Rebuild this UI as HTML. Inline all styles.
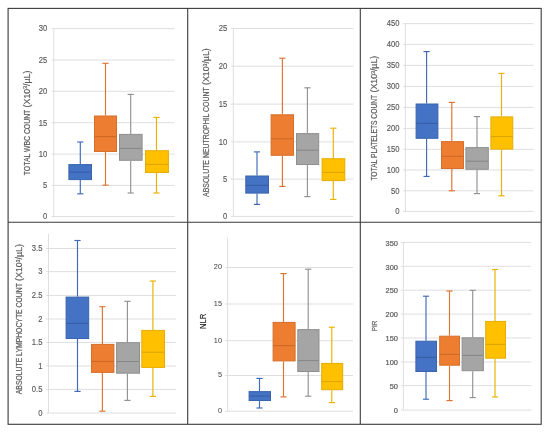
<!DOCTYPE html>
<html><head><meta charset="utf-8"><title>Box plots</title>
<style>html,body{margin:0;padding:0;background:#fff}svg{display:block}text{font-family:"Liberation Sans", sans-serif}</style>
</head><body>
<svg width="550" height="433" viewBox="0 0 550 433">
<rect width="550" height="433" fill="#ffffff"/>
<line x1="51.60" y1="28.60" x2="174.70" y2="28.60" stroke="#D9D9D9" stroke-width="0.85"/>
<line x1="51.60" y1="60.00" x2="174.70" y2="60.00" stroke="#D9D9D9" stroke-width="0.85"/>
<line x1="51.60" y1="91.30" x2="174.70" y2="91.30" stroke="#D9D9D9" stroke-width="0.85"/>
<line x1="51.60" y1="122.70" x2="174.70" y2="122.70" stroke="#D9D9D9" stroke-width="0.85"/>
<line x1="51.60" y1="154.10" x2="174.70" y2="154.10" stroke="#D9D9D9" stroke-width="0.85"/>
<line x1="51.60" y1="185.40" x2="174.70" y2="185.40" stroke="#D9D9D9" stroke-width="0.85"/>
<line x1="51.60" y1="216.50" x2="174.70" y2="216.50" stroke="#D9D9D9" stroke-width="0.85"/>
<line x1="53.80" y1="28.60" x2="53.80" y2="216.50" stroke="#D9D9D9" stroke-width="0.85"/>
<text x="47.20" y="31.42" font-size="9.0" fill="#595959" stroke="#595959" stroke-width="0.15" text-anchor="end" textLength="8.51" lengthAdjust="spacingAndGlyphs">30</text>
<text x="47.20" y="62.82" font-size="9.0" fill="#595959" stroke="#595959" stroke-width="0.15" text-anchor="end" textLength="8.51" lengthAdjust="spacingAndGlyphs">25</text>
<text x="47.20" y="94.12" font-size="9.0" fill="#595959" stroke="#595959" stroke-width="0.15" text-anchor="end" textLength="8.51" lengthAdjust="spacingAndGlyphs">20</text>
<text x="47.20" y="125.52" font-size="9.0" fill="#595959" stroke="#595959" stroke-width="0.15" text-anchor="end" textLength="8.51" lengthAdjust="spacingAndGlyphs">15</text>
<text x="47.20" y="156.92" font-size="9.0" fill="#595959" stroke="#595959" stroke-width="0.15" text-anchor="end" textLength="8.51" lengthAdjust="spacingAndGlyphs">10</text>
<text x="47.20" y="188.22" font-size="9.0" fill="#595959" stroke="#595959" stroke-width="0.15" text-anchor="end" textLength="4.25" lengthAdjust="spacingAndGlyphs">5</text>
<text x="47.20" y="219.32" font-size="9.0" fill="#595959" stroke="#595959" stroke-width="0.15" text-anchor="end" textLength="4.25" lengthAdjust="spacingAndGlyphs">0</text>
<text transform="translate(29.60,175.20) rotate(-90)" font-size="8.3" fill="#5e5e5e" stroke="#5e5e5e" stroke-width="0.2" lengthAdjust="spacingAndGlyphs" text-anchor="start" textLength="65.5">TOTAL WBC COUNT</text>
<text transform="translate(29.60,70.60) rotate(-90)" font-size="8.3" fill="#5e5e5e" stroke="#5e5e5e" stroke-width="0.2" lengthAdjust="spacingAndGlyphs" text-anchor="end" textLength="36.8">(X10<tspan font-size="55%" dy="-2.6">3</tspan><tspan dy="2.6">/µL)</tspan></text>
<line x1="80.30" y1="142.00" x2="80.30" y2="164.10" stroke="#3F6AB8" stroke-width="1.15"/>
<line x1="80.30" y1="180.10" x2="80.30" y2="193.80" stroke="#3F6AB8" stroke-width="1.15"/>
<line x1="77.20" y1="142.00" x2="83.40" y2="142.00" stroke="#3F6AB8" stroke-width="1.15"/>
<line x1="77.20" y1="193.80" x2="83.40" y2="193.80" stroke="#3F6AB8" stroke-width="1.15"/>
<rect x="68.90" y="164.60" width="22.60" height="15.00" fill="#4472C4" stroke="#3A64AE" stroke-width="1"/>
<line x1="68.90" y1="172.10" x2="91.50" y2="172.10" stroke="#375DA3" stroke-width="1"/>
<line x1="105.50" y1="63.30" x2="105.50" y2="115.50" stroke="#DD7430" stroke-width="1.15"/>
<line x1="105.50" y1="152.00" x2="105.50" y2="185.20" stroke="#DD7430" stroke-width="1.15"/>
<line x1="102.40" y1="63.30" x2="108.60" y2="63.30" stroke="#DD7430" stroke-width="1.15"/>
<line x1="102.40" y1="185.20" x2="108.60" y2="185.20" stroke="#DD7430" stroke-width="1.15"/>
<rect x="94.50" y="116.00" width="22.00" height="35.50" fill="#ED7D31" stroke="#D56F2A" stroke-width="1"/>
<line x1="94.50" y1="136.60" x2="116.50" y2="136.60" stroke="#CB6825" stroke-width="1"/>
<line x1="130.70" y1="94.40" x2="130.70" y2="133.90" stroke="#929292" stroke-width="1.15"/>
<line x1="130.70" y1="160.80" x2="130.70" y2="193.00" stroke="#929292" stroke-width="1.15"/>
<line x1="127.60" y1="94.40" x2="133.80" y2="94.40" stroke="#929292" stroke-width="1.15"/>
<line x1="127.60" y1="193.00" x2="133.80" y2="193.00" stroke="#929292" stroke-width="1.15"/>
<rect x="119.50" y="134.40" width="22.60" height="25.90" fill="#A5A5A5" stroke="#8F8F8F" stroke-width="1"/>
<line x1="119.50" y1="148.40" x2="142.10" y2="148.40" stroke="#868686" stroke-width="1"/>
<line x1="156.50" y1="117.40" x2="156.50" y2="150.20" stroke="#EBB100" stroke-width="1.15"/>
<line x1="156.50" y1="173.00" x2="156.50" y2="193.00" stroke="#EBB100" stroke-width="1.15"/>
<line x1="153.40" y1="117.40" x2="159.60" y2="117.40" stroke="#EBB100" stroke-width="1.15"/>
<line x1="153.40" y1="193.00" x2="159.60" y2="193.00" stroke="#EBB100" stroke-width="1.15"/>
<rect x="145.50" y="150.70" width="22.90" height="21.80" fill="#FFC000" stroke="#E6AC00" stroke-width="1"/>
<line x1="145.50" y1="164.40" x2="168.40" y2="164.40" stroke="#DAA400" stroke-width="1"/>
<line x1="231.00" y1="28.50" x2="353.30" y2="28.50" stroke="#D9D9D9" stroke-width="0.85"/>
<line x1="231.00" y1="66.20" x2="353.30" y2="66.20" stroke="#D9D9D9" stroke-width="0.85"/>
<line x1="231.00" y1="104.10" x2="353.30" y2="104.10" stroke="#D9D9D9" stroke-width="0.85"/>
<line x1="231.00" y1="141.90" x2="353.30" y2="141.90" stroke="#D9D9D9" stroke-width="0.85"/>
<line x1="231.00" y1="179.10" x2="353.30" y2="179.10" stroke="#D9D9D9" stroke-width="0.85"/>
<line x1="231.00" y1="216.40" x2="353.30" y2="216.40" stroke="#D9D9D9" stroke-width="0.85"/>
<line x1="233.30" y1="28.50" x2="233.30" y2="216.40" stroke="#D9D9D9" stroke-width="0.85"/>
<text x="227.30" y="31.32" font-size="9.0" fill="#595959" stroke="#595959" stroke-width="0.15" text-anchor="end" textLength="8.51" lengthAdjust="spacingAndGlyphs">25</text>
<text x="227.30" y="69.02" font-size="9.0" fill="#595959" stroke="#595959" stroke-width="0.15" text-anchor="end" textLength="8.51" lengthAdjust="spacingAndGlyphs">20</text>
<text x="227.30" y="106.92" font-size="9.0" fill="#595959" stroke="#595959" stroke-width="0.15" text-anchor="end" textLength="8.51" lengthAdjust="spacingAndGlyphs">15</text>
<text x="227.30" y="144.72" font-size="9.0" fill="#595959" stroke="#595959" stroke-width="0.15" text-anchor="end" textLength="8.51" lengthAdjust="spacingAndGlyphs">10</text>
<text x="227.30" y="181.92" font-size="9.0" fill="#595959" stroke="#595959" stroke-width="0.15" text-anchor="end" textLength="4.25" lengthAdjust="spacingAndGlyphs">5</text>
<text x="227.30" y="219.22" font-size="9.0" fill="#595959" stroke="#595959" stroke-width="0.15" text-anchor="end" textLength="4.25" lengthAdjust="spacingAndGlyphs">0</text>
<text transform="translate(209.10,196.90) rotate(-90)" font-size="8.3" fill="#5e5e5e" stroke="#5e5e5e" stroke-width="0.2" lengthAdjust="spacingAndGlyphs" text-anchor="start" textLength="109.6">ABSOLUTE NEUTROPHIL COUNT</text>
<text transform="translate(209.10,48.20) rotate(-90)" font-size="8.3" fill="#5e5e5e" stroke="#5e5e5e" stroke-width="0.2" lengthAdjust="spacingAndGlyphs" text-anchor="end" textLength="36.8">(X10<tspan font-size="55%" dy="-2.6">3</tspan><tspan dy="2.6">/µL)</tspan></text>
<line x1="257.00" y1="151.90" x2="257.00" y2="175.50" stroke="#3F6AB8" stroke-width="1.15"/>
<line x1="257.00" y1="193.60" x2="257.00" y2="204.40" stroke="#3F6AB8" stroke-width="1.15"/>
<line x1="253.90" y1="151.90" x2="260.10" y2="151.90" stroke="#3F6AB8" stroke-width="1.15"/>
<line x1="253.90" y1="204.40" x2="260.10" y2="204.40" stroke="#3F6AB8" stroke-width="1.15"/>
<rect x="245.80" y="176.00" width="22.70" height="17.10" fill="#4472C4" stroke="#3A64AE" stroke-width="1"/>
<line x1="245.80" y1="185.40" x2="268.50" y2="185.40" stroke="#375DA3" stroke-width="1"/>
<line x1="282.40" y1="58.20" x2="282.40" y2="114.30" stroke="#DD7430" stroke-width="1.15"/>
<line x1="282.40" y1="155.80" x2="282.40" y2="186.40" stroke="#DD7430" stroke-width="1.15"/>
<line x1="279.30" y1="58.20" x2="285.50" y2="58.20" stroke="#DD7430" stroke-width="1.15"/>
<line x1="279.30" y1="186.40" x2="285.50" y2="186.40" stroke="#DD7430" stroke-width="1.15"/>
<rect x="271.10" y="114.80" width="22.40" height="40.50" fill="#ED7D31" stroke="#D56F2A" stroke-width="1"/>
<line x1="271.10" y1="138.80" x2="293.50" y2="138.80" stroke="#CB6825" stroke-width="1"/>
<line x1="307.40" y1="87.80" x2="307.40" y2="133.10" stroke="#929292" stroke-width="1.15"/>
<line x1="307.40" y1="165.00" x2="307.40" y2="196.60" stroke="#929292" stroke-width="1.15"/>
<line x1="304.30" y1="87.80" x2="310.50" y2="87.80" stroke="#929292" stroke-width="1.15"/>
<line x1="304.30" y1="196.60" x2="310.50" y2="196.60" stroke="#929292" stroke-width="1.15"/>
<rect x="296.50" y="133.60" width="22.20" height="30.90" fill="#A5A5A5" stroke="#8F8F8F" stroke-width="1"/>
<line x1="296.50" y1="150.20" x2="318.70" y2="150.20" stroke="#868686" stroke-width="1"/>
<line x1="333.30" y1="128.20" x2="333.30" y2="158.20" stroke="#EBB100" stroke-width="1.15"/>
<line x1="333.30" y1="181.10" x2="333.30" y2="199.40" stroke="#EBB100" stroke-width="1.15"/>
<line x1="330.20" y1="128.20" x2="336.40" y2="128.20" stroke="#EBB100" stroke-width="1.15"/>
<line x1="330.20" y1="199.40" x2="336.40" y2="199.40" stroke="#EBB100" stroke-width="1.15"/>
<rect x="322.10" y="158.70" width="22.70" height="21.90" fill="#FFC000" stroke="#E6AC00" stroke-width="1"/>
<line x1="322.10" y1="172.40" x2="344.80" y2="172.40" stroke="#DAA400" stroke-width="1"/>
<line x1="403.00" y1="23.60" x2="533.60" y2="23.60" stroke="#D9D9D9" stroke-width="0.85"/>
<line x1="403.00" y1="44.40" x2="533.60" y2="44.40" stroke="#D9D9D9" stroke-width="0.85"/>
<line x1="403.00" y1="65.40" x2="533.60" y2="65.40" stroke="#D9D9D9" stroke-width="0.85"/>
<line x1="403.00" y1="86.40" x2="533.60" y2="86.40" stroke="#D9D9D9" stroke-width="0.85"/>
<line x1="403.00" y1="107.40" x2="533.60" y2="107.40" stroke="#D9D9D9" stroke-width="0.85"/>
<line x1="403.00" y1="128.40" x2="533.60" y2="128.40" stroke="#D9D9D9" stroke-width="0.85"/>
<line x1="403.00" y1="149.30" x2="533.60" y2="149.30" stroke="#D9D9D9" stroke-width="0.85"/>
<line x1="403.00" y1="170.00" x2="533.60" y2="170.00" stroke="#D9D9D9" stroke-width="0.85"/>
<line x1="403.00" y1="190.80" x2="533.60" y2="190.80" stroke="#D9D9D9" stroke-width="0.85"/>
<line x1="403.00" y1="211.40" x2="533.60" y2="211.40" stroke="#D9D9D9" stroke-width="0.85"/>
<line x1="405.40" y1="23.60" x2="405.40" y2="211.40" stroke="#D9D9D9" stroke-width="0.85"/>
<text x="399.40" y="26.42" font-size="9.0" fill="#595959" stroke="#595959" stroke-width="0.15" text-anchor="end" textLength="12.76" lengthAdjust="spacingAndGlyphs">450</text>
<text x="399.40" y="47.22" font-size="9.0" fill="#595959" stroke="#595959" stroke-width="0.15" text-anchor="end" textLength="12.76" lengthAdjust="spacingAndGlyphs">400</text>
<text x="399.40" y="68.22" font-size="9.0" fill="#595959" stroke="#595959" stroke-width="0.15" text-anchor="end" textLength="12.76" lengthAdjust="spacingAndGlyphs">350</text>
<text x="399.40" y="89.22" font-size="9.0" fill="#595959" stroke="#595959" stroke-width="0.15" text-anchor="end" textLength="12.76" lengthAdjust="spacingAndGlyphs">300</text>
<text x="399.40" y="110.22" font-size="9.0" fill="#595959" stroke="#595959" stroke-width="0.15" text-anchor="end" textLength="12.76" lengthAdjust="spacingAndGlyphs">250</text>
<text x="399.40" y="131.22" font-size="9.0" fill="#595959" stroke="#595959" stroke-width="0.15" text-anchor="end" textLength="12.76" lengthAdjust="spacingAndGlyphs">200</text>
<text x="399.40" y="152.12" font-size="9.0" fill="#595959" stroke="#595959" stroke-width="0.15" text-anchor="end" textLength="12.76" lengthAdjust="spacingAndGlyphs">150</text>
<text x="399.40" y="172.82" font-size="9.0" fill="#595959" stroke="#595959" stroke-width="0.15" text-anchor="end" textLength="12.76" lengthAdjust="spacingAndGlyphs">100</text>
<text x="399.40" y="193.62" font-size="9.0" fill="#595959" stroke="#595959" stroke-width="0.15" text-anchor="end" textLength="8.51" lengthAdjust="spacingAndGlyphs">50</text>
<text x="399.40" y="214.22" font-size="9.0" fill="#595959" stroke="#595959" stroke-width="0.15" text-anchor="end" textLength="4.25" lengthAdjust="spacingAndGlyphs">0</text>
<text transform="translate(377.10,180.60) rotate(-90)" font-size="8.3" fill="#5e5e5e" stroke="#5e5e5e" stroke-width="0.2" lengthAdjust="spacingAndGlyphs" text-anchor="start" textLength="85.8">TOTAL PLATELETS COUNT</text>
<text transform="translate(377.10,55.70) rotate(-90)" font-size="8.3" fill="#5e5e5e" stroke="#5e5e5e" stroke-width="0.2" lengthAdjust="spacingAndGlyphs" text-anchor="end" textLength="36.8">(X10<tspan font-size="55%" dy="-2.6">3</tspan><tspan dy="2.6">/µL)</tspan></text>
<line x1="426.60" y1="51.60" x2="426.60" y2="103.50" stroke="#3F6AB8" stroke-width="1.15"/>
<line x1="426.60" y1="138.80" x2="426.60" y2="176.40" stroke="#3F6AB8" stroke-width="1.15"/>
<line x1="423.50" y1="51.60" x2="429.70" y2="51.60" stroke="#3F6AB8" stroke-width="1.15"/>
<line x1="423.50" y1="176.40" x2="429.70" y2="176.40" stroke="#3F6AB8" stroke-width="1.15"/>
<rect x="416.10" y="104.00" width="21.80" height="34.30" fill="#4472C4" stroke="#3A64AE" stroke-width="1"/>
<line x1="416.10" y1="123.40" x2="437.90" y2="123.40" stroke="#375DA3" stroke-width="1"/>
<line x1="451.80" y1="102.40" x2="451.80" y2="141.10" stroke="#DD7430" stroke-width="1.15"/>
<line x1="451.80" y1="169.00" x2="451.80" y2="190.80" stroke="#DD7430" stroke-width="1.15"/>
<line x1="448.70" y1="102.40" x2="454.90" y2="102.40" stroke="#DD7430" stroke-width="1.15"/>
<line x1="448.70" y1="190.80" x2="454.90" y2="190.80" stroke="#DD7430" stroke-width="1.15"/>
<rect x="441.50" y="141.60" width="22.00" height="26.90" fill="#ED7D31" stroke="#D56F2A" stroke-width="1"/>
<line x1="441.50" y1="156.30" x2="463.50" y2="156.30" stroke="#CB6825" stroke-width="1"/>
<line x1="477.00" y1="116.60" x2="477.00" y2="147.10" stroke="#929292" stroke-width="1.15"/>
<line x1="477.00" y1="169.80" x2="477.00" y2="193.60" stroke="#929292" stroke-width="1.15"/>
<line x1="473.90" y1="116.60" x2="480.10" y2="116.60" stroke="#929292" stroke-width="1.15"/>
<line x1="473.90" y1="193.60" x2="480.10" y2="193.60" stroke="#929292" stroke-width="1.15"/>
<rect x="465.90" y="147.60" width="22.40" height="21.70" fill="#A5A5A5" stroke="#8F8F8F" stroke-width="1"/>
<line x1="465.90" y1="161.20" x2="488.30" y2="161.20" stroke="#868686" stroke-width="1"/>
<line x1="501.50" y1="73.40" x2="501.50" y2="116.40" stroke="#EBB100" stroke-width="1.15"/>
<line x1="501.50" y1="149.60" x2="501.50" y2="195.80" stroke="#EBB100" stroke-width="1.15"/>
<line x1="498.40" y1="73.40" x2="504.60" y2="73.40" stroke="#EBB100" stroke-width="1.15"/>
<line x1="498.40" y1="195.80" x2="504.60" y2="195.80" stroke="#EBB100" stroke-width="1.15"/>
<rect x="490.90" y="116.90" width="21.90" height="32.20" fill="#FFC000" stroke="#E6AC00" stroke-width="1"/>
<line x1="490.90" y1="136.60" x2="512.80" y2="136.60" stroke="#DAA400" stroke-width="1"/>
<line x1="46.00" y1="248.50" x2="176.20" y2="248.50" stroke="#D9D9D9" stroke-width="0.85"/>
<line x1="46.00" y1="271.60" x2="176.20" y2="271.60" stroke="#D9D9D9" stroke-width="0.85"/>
<line x1="46.00" y1="295.40" x2="176.20" y2="295.40" stroke="#D9D9D9" stroke-width="0.85"/>
<line x1="46.00" y1="319.00" x2="176.20" y2="319.00" stroke="#D9D9D9" stroke-width="0.85"/>
<line x1="46.00" y1="342.40" x2="176.20" y2="342.40" stroke="#D9D9D9" stroke-width="0.85"/>
<line x1="46.00" y1="366.00" x2="176.20" y2="366.00" stroke="#D9D9D9" stroke-width="0.85"/>
<line x1="46.00" y1="389.40" x2="176.20" y2="389.40" stroke="#D9D9D9" stroke-width="0.85"/>
<line x1="46.00" y1="413.00" x2="176.20" y2="413.00" stroke="#D9D9D9" stroke-width="0.85"/>
<line x1="48.50" y1="234.00" x2="48.50" y2="413.00" stroke="#D9D9D9" stroke-width="0.85"/>
<text x="42.40" y="251.32" font-size="9.0" fill="#595959" stroke="#595959" stroke-width="0.15" text-anchor="end" textLength="10.63" lengthAdjust="spacingAndGlyphs">3.5</text>
<text x="42.40" y="274.42" font-size="9.0" fill="#595959" stroke="#595959" stroke-width="0.15" text-anchor="end" textLength="4.25" lengthAdjust="spacingAndGlyphs">3</text>
<text x="42.40" y="298.22" font-size="9.0" fill="#595959" stroke="#595959" stroke-width="0.15" text-anchor="end" textLength="10.63" lengthAdjust="spacingAndGlyphs">2.5</text>
<text x="42.40" y="321.82" font-size="9.0" fill="#595959" stroke="#595959" stroke-width="0.15" text-anchor="end" textLength="4.25" lengthAdjust="spacingAndGlyphs">2</text>
<text x="42.40" y="345.22" font-size="9.0" fill="#595959" stroke="#595959" stroke-width="0.15" text-anchor="end" textLength="10.63" lengthAdjust="spacingAndGlyphs">1.5</text>
<text x="42.40" y="368.82" font-size="9.0" fill="#595959" stroke="#595959" stroke-width="0.15" text-anchor="end" textLength="4.25" lengthAdjust="spacingAndGlyphs">1</text>
<text x="42.40" y="392.22" font-size="9.0" fill="#595959" stroke="#595959" stroke-width="0.15" text-anchor="end" textLength="10.63" lengthAdjust="spacingAndGlyphs">0.5</text>
<text x="42.40" y="415.82" font-size="9.0" fill="#595959" stroke="#595959" stroke-width="0.15" text-anchor="end" textLength="4.25" lengthAdjust="spacingAndGlyphs">0</text>
<text transform="translate(22.20,394.20) rotate(-90)" font-size="8.3" fill="#5e5e5e" stroke="#5e5e5e" stroke-width="0.2" lengthAdjust="spacingAndGlyphs" text-anchor="start" textLength="111.0">ABSOLUTE LYMPHOCYTE COUNT</text>
<text transform="translate(22.20,244.10) rotate(-90)" font-size="8.3" fill="#5e5e5e" stroke="#5e5e5e" stroke-width="0.2" lengthAdjust="spacingAndGlyphs" text-anchor="end" textLength="36.8">(X10<tspan font-size="55%" dy="-2.6">3</tspan><tspan dy="2.6">/µL)</tspan></text>
<line x1="77.50" y1="240.50" x2="77.50" y2="296.60" stroke="#3F6AB8" stroke-width="1.15"/>
<line x1="77.50" y1="339.00" x2="77.50" y2="391.40" stroke="#3F6AB8" stroke-width="1.15"/>
<line x1="74.40" y1="240.50" x2="80.60" y2="240.50" stroke="#3F6AB8" stroke-width="1.15"/>
<line x1="74.40" y1="391.40" x2="80.60" y2="391.40" stroke="#3F6AB8" stroke-width="1.15"/>
<rect x="66.10" y="297.10" width="22.60" height="41.40" fill="#4472C4" stroke="#3A64AE" stroke-width="1"/>
<line x1="66.10" y1="323.40" x2="88.70" y2="323.40" stroke="#375DA3" stroke-width="1"/>
<line x1="102.40" y1="306.70" x2="102.40" y2="343.90" stroke="#DD7430" stroke-width="1.15"/>
<line x1="102.40" y1="372.90" x2="102.40" y2="411.20" stroke="#DD7430" stroke-width="1.15"/>
<line x1="99.30" y1="306.70" x2="105.50" y2="306.70" stroke="#DD7430" stroke-width="1.15"/>
<line x1="99.30" y1="411.20" x2="105.50" y2="411.20" stroke="#DD7430" stroke-width="1.15"/>
<rect x="91.50" y="344.40" width="22.40" height="28.00" fill="#ED7D31" stroke="#D56F2A" stroke-width="1"/>
<line x1="91.50" y1="361.40" x2="113.90" y2="361.40" stroke="#CB6825" stroke-width="1"/>
<line x1="127.40" y1="301.30" x2="127.40" y2="342.20" stroke="#929292" stroke-width="1.15"/>
<line x1="127.40" y1="373.70" x2="127.40" y2="400.40" stroke="#929292" stroke-width="1.15"/>
<line x1="124.30" y1="301.30" x2="130.50" y2="301.30" stroke="#929292" stroke-width="1.15"/>
<line x1="124.30" y1="400.40" x2="130.50" y2="400.40" stroke="#929292" stroke-width="1.15"/>
<rect x="116.60" y="342.70" width="22.90" height="30.50" fill="#A5A5A5" stroke="#8F8F8F" stroke-width="1"/>
<line x1="116.60" y1="361.50" x2="139.50" y2="361.50" stroke="#868686" stroke-width="1"/>
<line x1="152.90" y1="281.00" x2="152.90" y2="329.90" stroke="#EBB100" stroke-width="1.15"/>
<line x1="152.90" y1="367.90" x2="152.90" y2="396.40" stroke="#EBB100" stroke-width="1.15"/>
<line x1="149.80" y1="281.00" x2="156.00" y2="281.00" stroke="#EBB100" stroke-width="1.15"/>
<line x1="149.80" y1="396.40" x2="156.00" y2="396.40" stroke="#EBB100" stroke-width="1.15"/>
<rect x="141.80" y="330.40" width="22.70" height="37.00" fill="#FFC000" stroke="#E6AC00" stroke-width="1"/>
<line x1="141.80" y1="352.20" x2="164.50" y2="352.20" stroke="#DAA400" stroke-width="1"/>
<line x1="225.00" y1="267.50" x2="353.00" y2="267.50" stroke="#D9D9D9" stroke-width="0.85"/>
<line x1="225.00" y1="304.00" x2="353.00" y2="304.00" stroke="#D9D9D9" stroke-width="0.85"/>
<line x1="225.00" y1="340.70" x2="353.00" y2="340.70" stroke="#D9D9D9" stroke-width="0.85"/>
<line x1="225.00" y1="375.50" x2="353.00" y2="375.50" stroke="#D9D9D9" stroke-width="0.85"/>
<line x1="225.00" y1="411.20" x2="353.00" y2="411.20" stroke="#D9D9D9" stroke-width="0.85"/>
<line x1="227.60" y1="237.40" x2="227.60" y2="411.20" stroke="#D9D9D9" stroke-width="0.85"/>
<text x="222.00" y="269.48" font-size="7.2" fill="#4a4a4a" stroke="#4a4a4a" stroke-width="0.05" text-anchor="end" textLength="8.17" lengthAdjust="spacingAndGlyphs">20</text>
<text x="222.00" y="305.98" font-size="7.2" fill="#4a4a4a" stroke="#4a4a4a" stroke-width="0.05" text-anchor="end" textLength="8.17" lengthAdjust="spacingAndGlyphs">15</text>
<text x="222.00" y="342.68" font-size="7.2" fill="#4a4a4a" stroke="#4a4a4a" stroke-width="0.05" text-anchor="end" textLength="8.17" lengthAdjust="spacingAndGlyphs">10</text>
<text x="222.00" y="377.48" font-size="7.2" fill="#4a4a4a" stroke="#4a4a4a" stroke-width="0.05" text-anchor="end" textLength="4.08" lengthAdjust="spacingAndGlyphs">5</text>
<text x="222.00" y="413.18" font-size="7.2" fill="#4a4a4a" stroke="#4a4a4a" stroke-width="0.05" text-anchor="end" textLength="4.08" lengthAdjust="spacingAndGlyphs">0</text>
<text transform="translate(205.70,321.30) rotate(-90)" font-size="8.8" fill="#1a1a1a" stroke="#1a1a1a" stroke-width="0.12" lengthAdjust="spacingAndGlyphs" text-anchor="middle" textLength="15.6">NLR</text>
<line x1="259.50" y1="378.40" x2="259.50" y2="391.10" stroke="#3F6AB8" stroke-width="1.15"/>
<line x1="259.50" y1="401.00" x2="259.50" y2="408.00" stroke="#3F6AB8" stroke-width="1.15"/>
<line x1="256.40" y1="378.40" x2="262.60" y2="378.40" stroke="#3F6AB8" stroke-width="1.15"/>
<line x1="256.40" y1="408.00" x2="262.60" y2="408.00" stroke="#3F6AB8" stroke-width="1.15"/>
<rect x="249.10" y="391.60" width="21.40" height="8.90" fill="#4472C4" stroke="#3A64AE" stroke-width="1"/>
<line x1="249.10" y1="396.00" x2="270.50" y2="396.00" stroke="#375DA3" stroke-width="1"/>
<line x1="283.50" y1="273.60" x2="283.50" y2="321.90" stroke="#DD7430" stroke-width="1.15"/>
<line x1="283.50" y1="361.40" x2="283.50" y2="396.90" stroke="#DD7430" stroke-width="1.15"/>
<line x1="280.40" y1="273.60" x2="286.60" y2="273.60" stroke="#DD7430" stroke-width="1.15"/>
<line x1="280.40" y1="396.90" x2="286.60" y2="396.90" stroke="#DD7430" stroke-width="1.15"/>
<rect x="273.10" y="322.40" width="22.00" height="38.50" fill="#ED7D31" stroke="#D56F2A" stroke-width="1"/>
<line x1="273.10" y1="345.60" x2="295.10" y2="345.60" stroke="#CB6825" stroke-width="1"/>
<line x1="308.20" y1="269.20" x2="308.20" y2="329.10" stroke="#929292" stroke-width="1.15"/>
<line x1="308.20" y1="372.00" x2="308.20" y2="396.20" stroke="#929292" stroke-width="1.15"/>
<line x1="305.10" y1="269.20" x2="311.30" y2="269.20" stroke="#929292" stroke-width="1.15"/>
<line x1="305.10" y1="396.20" x2="311.30" y2="396.20" stroke="#929292" stroke-width="1.15"/>
<rect x="297.80" y="329.60" width="21.20" height="41.90" fill="#A5A5A5" stroke="#8F8F8F" stroke-width="1"/>
<line x1="297.80" y1="360.60" x2="319.00" y2="360.60" stroke="#868686" stroke-width="1"/>
<line x1="331.80" y1="327.20" x2="331.80" y2="362.90" stroke="#EBB100" stroke-width="1.15"/>
<line x1="331.80" y1="390.20" x2="331.80" y2="402.60" stroke="#EBB100" stroke-width="1.15"/>
<line x1="328.70" y1="327.20" x2="334.90" y2="327.20" stroke="#EBB100" stroke-width="1.15"/>
<line x1="328.70" y1="402.60" x2="334.90" y2="402.60" stroke="#EBB100" stroke-width="1.15"/>
<rect x="321.70" y="363.40" width="21.00" height="26.30" fill="#FFC000" stroke="#E6AC00" stroke-width="1"/>
<line x1="321.70" y1="381.60" x2="342.70" y2="381.60" stroke="#DAA400" stroke-width="1"/>
<line x1="401.00" y1="242.40" x2="531.30" y2="242.40" stroke="#D9D9D9" stroke-width="0.85"/>
<line x1="401.00" y1="266.30" x2="531.30" y2="266.30" stroke="#D9D9D9" stroke-width="0.85"/>
<line x1="401.00" y1="290.20" x2="531.30" y2="290.20" stroke="#D9D9D9" stroke-width="0.85"/>
<line x1="401.00" y1="314.10" x2="531.30" y2="314.10" stroke="#D9D9D9" stroke-width="0.85"/>
<line x1="401.00" y1="338.00" x2="531.30" y2="338.00" stroke="#D9D9D9" stroke-width="0.85"/>
<line x1="401.00" y1="362.00" x2="531.30" y2="362.00" stroke="#D9D9D9" stroke-width="0.85"/>
<line x1="401.00" y1="385.60" x2="531.30" y2="385.60" stroke="#D9D9D9" stroke-width="0.85"/>
<line x1="401.00" y1="410.10" x2="531.30" y2="410.10" stroke="#D9D9D9" stroke-width="0.85"/>
<line x1="403.40" y1="242.40" x2="403.40" y2="410.10" stroke="#D9D9D9" stroke-width="0.85"/>
<text x="398.00" y="245.66" font-size="8.0" fill="#595959" stroke="#595959" stroke-width="0.2" text-anchor="end" textLength="12.41" lengthAdjust="spacingAndGlyphs">350</text>
<text x="398.00" y="269.56" font-size="8.0" fill="#595959" stroke="#595959" stroke-width="0.2" text-anchor="end" textLength="12.41" lengthAdjust="spacingAndGlyphs">300</text>
<text x="398.00" y="293.46" font-size="8.0" fill="#595959" stroke="#595959" stroke-width="0.2" text-anchor="end" textLength="12.41" lengthAdjust="spacingAndGlyphs">250</text>
<text x="398.00" y="317.36" font-size="8.0" fill="#595959" stroke="#595959" stroke-width="0.2" text-anchor="end" textLength="12.41" lengthAdjust="spacingAndGlyphs">200</text>
<text x="398.00" y="341.26" font-size="8.0" fill="#595959" stroke="#595959" stroke-width="0.2" text-anchor="end" textLength="12.41" lengthAdjust="spacingAndGlyphs">150</text>
<text x="398.00" y="365.26" font-size="8.0" fill="#595959" stroke="#595959" stroke-width="0.2" text-anchor="end" textLength="12.41" lengthAdjust="spacingAndGlyphs">100</text>
<text x="398.00" y="388.86" font-size="8.0" fill="#595959" stroke="#595959" stroke-width="0.2" text-anchor="end" textLength="8.27" lengthAdjust="spacingAndGlyphs">50</text>
<text x="398.00" y="413.36" font-size="8.0" fill="#595959" stroke="#595959" stroke-width="0.2" text-anchor="end" textLength="4.14" lengthAdjust="spacingAndGlyphs">0</text>
<text transform="translate(377.20,326.00) rotate(-90)" font-size="7.2" fill="#595959" stroke="#595959" stroke-width="0.2" lengthAdjust="spacingAndGlyphs" text-anchor="middle" textLength="10.4">PIR</text>
<line x1="426.00" y1="296.20" x2="426.00" y2="340.70" stroke="#3F6AB8" stroke-width="1.15"/>
<line x1="426.00" y1="372.00" x2="426.00" y2="399.20" stroke="#3F6AB8" stroke-width="1.15"/>
<line x1="422.90" y1="296.20" x2="429.10" y2="296.20" stroke="#3F6AB8" stroke-width="1.15"/>
<line x1="422.90" y1="399.20" x2="429.10" y2="399.20" stroke="#3F6AB8" stroke-width="1.15"/>
<rect x="415.90" y="341.20" width="20.60" height="30.30" fill="#4472C4" stroke="#3A64AE" stroke-width="1"/>
<line x1="415.90" y1="357.40" x2="436.50" y2="357.40" stroke="#375DA3" stroke-width="1"/>
<line x1="449.50" y1="291.00" x2="449.50" y2="335.70" stroke="#DD7430" stroke-width="1.15"/>
<line x1="449.50" y1="365.70" x2="449.50" y2="400.60" stroke="#DD7430" stroke-width="1.15"/>
<line x1="446.40" y1="291.00" x2="452.60" y2="291.00" stroke="#DD7430" stroke-width="1.15"/>
<line x1="446.40" y1="400.60" x2="452.60" y2="400.60" stroke="#DD7430" stroke-width="1.15"/>
<rect x="439.70" y="336.20" width="19.80" height="29.00" fill="#ED7D31" stroke="#D56F2A" stroke-width="1"/>
<line x1="439.70" y1="354.40" x2="459.50" y2="354.40" stroke="#CB6825" stroke-width="1"/>
<line x1="472.70" y1="290.30" x2="472.70" y2="337.30" stroke="#929292" stroke-width="1.15"/>
<line x1="472.70" y1="371.20" x2="472.70" y2="397.60" stroke="#929292" stroke-width="1.15"/>
<line x1="469.60" y1="290.30" x2="475.80" y2="290.30" stroke="#929292" stroke-width="1.15"/>
<line x1="469.60" y1="397.60" x2="475.80" y2="397.60" stroke="#929292" stroke-width="1.15"/>
<rect x="462.10" y="337.80" width="21.30" height="32.90" fill="#A5A5A5" stroke="#8F8F8F" stroke-width="1"/>
<line x1="462.10" y1="355.40" x2="483.40" y2="355.40" stroke="#868686" stroke-width="1"/>
<line x1="495.00" y1="269.50" x2="495.00" y2="320.90" stroke="#EBB100" stroke-width="1.15"/>
<line x1="495.00" y1="358.70" x2="495.00" y2="397.00" stroke="#EBB100" stroke-width="1.15"/>
<line x1="491.90" y1="269.50" x2="498.10" y2="269.50" stroke="#EBB100" stroke-width="1.15"/>
<line x1="491.90" y1="397.00" x2="498.10" y2="397.00" stroke="#EBB100" stroke-width="1.15"/>
<rect x="485.70" y="321.40" width="19.80" height="36.80" fill="#FFC000" stroke="#E6AC00" stroke-width="1"/>
<line x1="485.70" y1="344.40" x2="505.50" y2="344.40" stroke="#DAA400" stroke-width="1"/>
<rect x="8.1" y="8.4" width="533.1" height="415.9" fill="none" stroke="#3b3b3b" stroke-width="1.1"/>
<line x1="187.70" y1="8.00" x2="187.70" y2="424.00" stroke="#3b3b3b" stroke-width="1.1"/>
<line x1="360.30" y1="8.00" x2="360.30" y2="424.00" stroke="#3b3b3b" stroke-width="1.1"/>
<line x1="8.00" y1="222.30" x2="541.00" y2="222.30" stroke="#3b3b3b" stroke-width="1.1"/>
</svg>
</body></html>
